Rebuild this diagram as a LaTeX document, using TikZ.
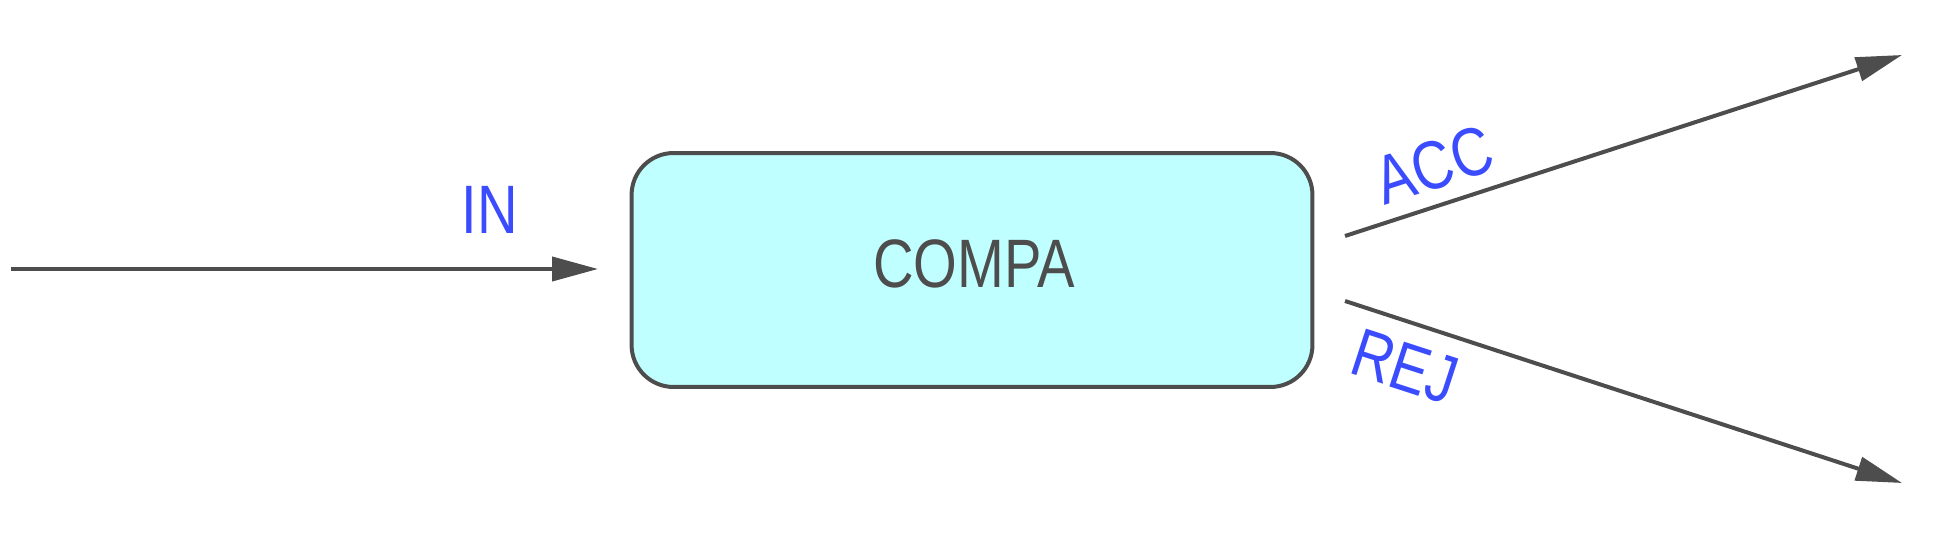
\documentclass[tikz,border=0pt]{standalone}
\usepackage{fontspec}
\setmainfont{Liberation Sans}[FakeStretch=0.82]
\usetikzlibrary{arrows.meta}
\definecolor{edgegray}{HTML}{4D4D4D}
\definecolor{boxfill}{HTML}{C0FFFF}
\definecolor{lblblue}{HTML}{3B4CFF}
\tikzset{
  wire/.style={draw=edgegray, line width=0.08cm, -{Triangle[length=0.92cm,width=0.48cm]}},
  procbox/.style={draw=edgegray, fill=boxfill, line width=0.08cm, rounded corners=0.84cm,
    minimum width=13.62cm, minimum height=4.68cm, inner sep=0pt},
  boxtext/.style={text=edgegray, inner sep=0pt, font=\fontsize{39}{42}\selectfont},
  lbl/.style={text=lblblue, inner sep=0pt, font=\fontsize{39}{42}\selectfont}
}
\begin{document}
\begin{tikzpicture}[x=0.02cm,y=-0.02cm]
\useasboundingbox (0,0) rectangle (1953,540);
\node[procbox] (compa) at (972,270) {};
\node[boxtext] (compatext) at (974,264) {COMPA};
\coordinate (inS) at (11,269);
\coordinate (inE) at (598,269);
\coordinate (accS) at (1345,236);
\coordinate (accE) at (1902,55);
\coordinate (rejS) at (1345,301);
\coordinate (rejE) at (1902,483);
\draw[wire] (inS) -- (inE);
\draw[wire] (accS) -- (accE);
\draw[wire] (rejS) -- (rejE);
\node[lbl] (inlbl) at (490,210) {IN};
\node[lbl, rotate=18] (acclbl) at (1434,165) {ACC};
\node[lbl, rotate=-18] (rejlbl) at (1405,367) {REJ};
\end{tikzpicture}
\end{document}
